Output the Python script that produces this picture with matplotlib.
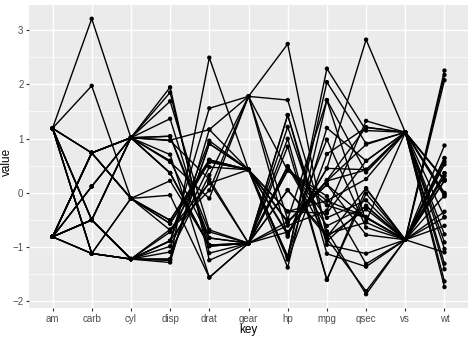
import numpy as np
import matplotlib.pyplot as plt

plt.rcParams['font.family'] = ['Liberation Sans', 'DejaVu Sans']

# mtcars, raw columns (one value per car); plotted after scaling each column
mpg = [21.0, 21.0, 22.8, 21.4, 18.7, 18.1, 14.3, 24.4, 22.8, 19.2, 17.8, 16.4, 17.3, 15.2, 10.4, 10.4,
       14.7, 32.4, 30.4, 33.9, 21.5, 15.5, 15.2, 13.3, 19.2, 27.3, 26.0, 30.4, 15.8, 19.7, 15.0, 21.4]
cyl = [6, 6, 4, 6, 8, 6, 8, 4, 4, 6, 6, 8, 8, 8, 8, 8, 8, 4, 4, 4, 4, 8, 8, 8, 8, 4, 4, 4, 8, 6, 8, 4]
disp = [160.0, 160.0, 108.0, 258.0, 360.0, 225.0, 360.0, 146.7, 140.8, 167.6, 167.6, 275.8, 275.8, 275.8,
        472.0, 460.0, 440.0, 78.7, 75.7, 71.1, 120.1, 318.0, 304.0, 350.0, 400.0, 79.0, 120.3, 95.1,
        351.0, 145.0, 301.0, 121.0]
hp = [110, 110, 93, 110, 175, 105, 245, 62, 95, 123, 123, 180, 180, 180, 205, 215, 230, 66, 52, 65, 97,
      150, 150, 245, 175, 66, 91, 113, 264, 175, 335, 109]
drat = [3.90, 3.90, 3.85, 3.08, 3.15, 2.76, 3.21, 3.69, 3.92, 3.92, 3.92, 3.07, 3.07, 3.07, 2.93, 3.00,
        3.23, 4.08, 4.93, 4.22, 3.70, 2.76, 3.15, 3.73, 3.08, 4.08, 4.43, 3.77, 4.22, 3.62, 3.54, 4.11]
wt = [2.620, 2.875, 2.320, 3.215, 3.440, 3.460, 3.570, 3.190, 3.150, 3.440, 3.440, 4.070, 3.730, 3.780,
      5.250, 5.424, 5.345, 2.200, 1.615, 1.835, 2.465, 3.520, 3.435, 3.840, 3.845, 1.935, 2.140, 1.513,
      3.170, 2.770, 3.570, 2.780]
qsec = [16.46, 17.02, 18.61, 19.44, 17.02, 20.22, 15.84, 20.00, 22.90, 18.30, 18.90, 17.40, 17.60, 18.00,
        17.98, 17.82, 17.42, 19.47, 18.52, 19.90, 20.01, 16.87, 17.30, 15.41, 17.05, 18.90, 16.70, 16.90,
        14.50, 15.50, 14.60, 18.60]
vs = [0, 0, 1, 1, 0, 1, 0, 1, 1, 1, 1, 0, 0, 0, 0, 0, 0, 1, 1, 1, 1, 0, 0, 0, 0, 1, 0, 1, 0, 0, 0, 1]
am = [1, 1, 1, 0, 0, 0, 0, 0, 0, 0, 0, 0, 0, 0, 0, 0, 0, 1, 1, 1, 0, 0, 0, 0, 0, 1, 1, 1, 1, 1, 1, 1]
gear = [4, 4, 4, 3, 3, 3, 3, 4, 4, 4, 4, 3, 3, 3, 3, 3, 3, 4, 4, 4, 3, 3, 3, 3, 3, 4, 5, 5, 5, 5, 5, 4]
carb = [4, 4, 1, 1, 2, 1, 4, 2, 2, 4, 4, 3, 3, 3, 4, 4, 4, 1, 2, 1, 1, 2, 2, 4, 2, 1, 2, 2, 4, 6, 8, 2]

keys = ['am', 'carb', 'cyl', 'disp', 'drat', 'gear', 'hp', 'mpg', 'qsec', 'vs', 'wt']
columns = {'am': am, 'carb': carb, 'cyl': cyl, 'disp': disp, 'drat': drat, 'gear': gear,
           'hp': hp, 'mpg': mpg, 'qsec': qsec, 'vs': vs, 'wt': wt}

# scale each variable like R's scale()
scaled = np.array([(np.array(columns[k]) - np.mean(columns[k])) / np.std(columns[k], ddof=1)
                   for k in keys])

fig = plt.figure(figsize=(4.74, 3.38), dpi=100)
ax = fig.add_axes([29 / 474, 30 / 338, 439 / 474, 303 / 338])
ax.set_facecolor('#EBEBEB')

x = np.arange(1, len(keys) + 1)
for i in range(scaled.shape[1]):
    ax.plot(x, scaled[:, i], color='black', lw=1.0, zorder=3)
    ax.scatter(x, scaled[:, i], color='black', s=10, zorder=4, edgecolors='none')

ax.set_xlim(0.4, len(keys) + 0.6)
lo, hi = scaled.min(), scaled.max()
pad = (hi - lo) * 0.05
ax.set_ylim(lo - pad, hi + pad)

ax.set_xticks(x)
ax.set_xticklabels(keys)
ax.set_yticks([-2, -1, 0, 1, 2, 3])
ax.set_yticks([-1.5, -0.5, 0.5, 1.5, 2.5], minor=True)
ax.grid(True, which='major', color='white', lw=1.0, zorder=0)
ax.grid(True, which='minor', axis='y', color='white', lw=0.5, zorder=0)
ax.set_axisbelow(True)
for s in ax.spines.values():
    s.set_visible(False)

ax.tick_params(axis='both', which='major', labelsize=7, colors='#333333', labelcolor='#4D4D4D',
               length=2.5, width=0.8, pad=1.5)
ax.tick_params(axis='y', which='minor', length=0)

# axis titles placed in figure pixels
fig.text(248 / 474, 1 - 330 / 338, 'key', fontsize=8.5, ha='center', va='center')
fig.text(7 / 474, 1 - 162 / 338, 'value', fontsize=8.5, ha='center', va='center', rotation=90)

plt.savefig('out.png', dpi=100)
